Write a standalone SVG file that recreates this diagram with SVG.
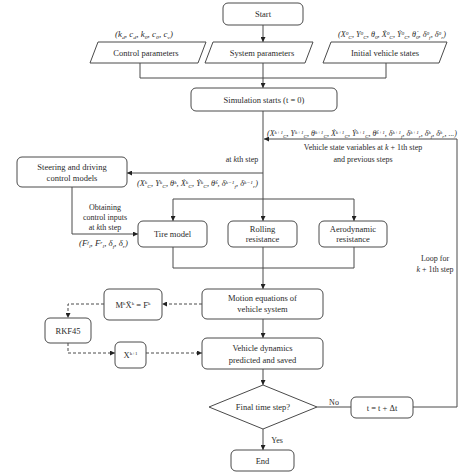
<svg xmlns="http://www.w3.org/2000/svg" width="474" height="474" viewBox="0 0 474 474">
<defs>
<marker id="ah" viewBox="0 0 8 8" refX="8" refY="4" markerWidth="5" markerHeight="5" orient="auto" markerUnits="userSpaceOnUse">
<path d="M0,0 L8,4 L0,8 z" fill="#222"/>
</marker>
</defs>
<style>
.b{fill:#fff;stroke:#4a4a4a;stroke-width:1}
.t{font-family:"Liberation Serif","DejaVu Serif",serif;font-size:8.5px;fill:#2a2a2a;text-anchor:middle}
.l{font-family:"Liberation Serif","DejaVu Serif",serif;font-size:8px;fill:#2a2a2a;text-anchor:middle}
.m{font-family:"Liberation Serif","DejaVu Serif",serif;font-size:7.5px;fill:#2a2a2a;font-style:italic}
.s{font-size:5px}
.c{fill:none;stroke:#4a4a4a;stroke-width:1}
.d{fill:none;stroke:#4a4a4a;stroke-width:1;stroke-dasharray:3,2}
.a{marker-end:url(#ah)}
</style>
<rect width="474" height="474" fill="#fff"/>

<g id="connectors">
<path class="c a" d="M263,25 V42"/>
<path class="c" d="M140,63 V78 H386 V63"/>
<path class="c a" d="M263,63 V88"/>
<path class="c a" d="M263,111 V221"/>
<path class="c a" d="M457,407 V139 H264"/>
<path class="c a" d="M263,173 H127"/>
<path class="c" d="M173,199 H354"/>
<path class="c a" d="M173,199 V221"/>
<path class="c a" d="M354,199 V221"/>
<path class="c a" d="M72,187 V234 H138"/>
<path class="c" d="M173,247 V268 H354 V247"/>
<path class="c" d="M263,247 V268"/>
<path class="c a" d="M263,268 V289"/>
<path class="d a" d="M202,304 H162"/>
<path class="d a" d="M104,304 H68 V318"/>
<path class="d a" d="M68,343 V353 H115"/>
<path class="d a" d="M146,353 H202"/>
<path class="c a" d="M263,319 V338"/>
<path class="c a" d="M263,369 V385"/>
<path class="c" d="M317,407 H351"/>
<path class="c" d="M413,407 H457"/>
<path class="c a" d="M263,429 V450"/>
</g>

<g id="start"><rect class="b" x="223" y="3" width="80" height="22" rx="5"/><text class="t" x="263" y="17">Start</text></g>

<g id="control-parameters">
<polygon class="b" points="98,42 206,42 198,63 90,63"/>
<text class="t" x="146" y="56">Control parameters</text>
<text class="m" x="115" y="37" textLength="58" lengthAdjust="spacingAndGlyphs">(k<tspan class="s" dy="1.5">d</tspan><tspan dy="-1.5">, c</tspan><tspan class="s" dy="1.5">d</tspan><tspan dy="-1.5">, k</tspan><tspan class="s" dy="1.5">θ</tspan><tspan dy="-1.5">, c</tspan><tspan class="s" dy="1.5">θ</tspan><tspan dy="-1.5">, c</tspan><tspan class="s" dy="1.5">v</tspan><tspan dy="-1.5">)</tspan></text>
</g>

<g id="system-parameters">
<polygon class="b" points="213,42 313,42 305,63 205,63"/>
<text class="t" x="262" y="56">System parameters</text>
</g>

<g id="initial-vehicle-states">
<polygon class="b" points="331,42 447,42 439,63 323,63"/>
<text class="t" x="385" y="56">Initial vehicle states</text>
<text class="m" x="338" y="37" textLength="108" lengthAdjust="spacingAndGlyphs">(X<tspan class="s" dy="-2.5">0</tspan><tspan class="s" dy="4">C</tspan><tspan dy="-1.5">, Y</tspan><tspan class="s" dy="-2.5">0</tspan><tspan class="s" dy="4">C</tspan><tspan dy="-1.5">, θ</tspan><tspan class="s" dy="1.5">0</tspan><tspan dy="-1.5">, Ẋ</tspan><tspan class="s" dy="-2.5">0</tspan><tspan class="s" dy="4">C</tspan><tspan dy="-1.5">, Ẏ</tspan><tspan class="s" dy="-2.5">0</tspan><tspan class="s" dy="4">C</tspan><tspan dy="-1.5">, θ̇</tspan><tspan class="s" dy="1.5">0</tspan><tspan dy="-1.5">, δ</tspan><tspan class="s" dy="-2.5">0</tspan><tspan class="s" dy="4">f</tspan><tspan dy="-1.5">, δ</tspan><tspan class="s" dy="-2.5">0</tspan><tspan class="s" dy="4">r</tspan><tspan dy="-1.5">)</tspan></text>
</g>

<g id="simulation-starts"><rect class="b" x="191" y="88" width="146" height="23" rx="5"/><text class="t" x="264" y="102.5">Simulation starts (t = 0)</text></g>

<g id="loop-labels">
<text class="m" x="267" y="136" textLength="190" lengthAdjust="spacingAndGlyphs">(X<tspan class="s" dy="-2.5">k+1</tspan><tspan class="s" dy="4">C</tspan><tspan dy="-1.5">, Y</tspan><tspan class="s" dy="-2.5">k+1</tspan><tspan class="s" dy="4">C</tspan><tspan dy="-1.5">, θ</tspan><tspan class="s" dy="-2.5">k+1</tspan><tspan class="s" dy="4">C</tspan><tspan dy="-1.5">, Ẋ</tspan><tspan class="s" dy="-2.5">k+1</tspan><tspan class="s" dy="4">C</tspan><tspan dy="-1.5">, Ẏ</tspan><tspan class="s" dy="-2.5">k+1</tspan><tspan class="s" dy="4">C</tspan><tspan dy="-1.5">, θ̇</tspan><tspan class="s" dy="-2.5">k+1</tspan><tspan dy="2.5">, δ</tspan><tspan class="s" dy="-2.5">k+1</tspan><tspan class="s" dy="4">f</tspan><tspan dy="-1.5">, δ</tspan><tspan class="s" dy="-2.5">k+1</tspan><tspan class="s" dy="4">r</tspan><tspan dy="-1.5">, δ</tspan><tspan class="s" dy="-2.5">k</tspan><tspan class="s" dy="4">f</tspan><tspan dy="-1.5">, δ</tspan><tspan class="s" dy="-2.5">k</tspan><tspan class="s" dy="4">r</tspan><tspan dy="-1.5">, ...)</tspan></text>
<text class="l" x="363" y="150">Vehicle state variables at <tspan font-style="italic">k</tspan> + 1th step</text>
<text class="l" x="363" y="162">and previous steps</text>
<text class="l" x="242" y="162">at <tspan font-style="italic">k</tspan>th step</text>
<text class="m" x="137" y="186" textLength="121" lengthAdjust="spacingAndGlyphs">(X<tspan class="s" dy="-2.5">k</tspan><tspan class="s" dy="4">C</tspan><tspan dy="-1.5">, Y</tspan><tspan class="s" dy="-2.5">k</tspan><tspan class="s" dy="4">C</tspan><tspan dy="-1.5">, θ</tspan><tspan class="s" dy="-2.5">k</tspan><tspan dy="2.5">, Ẋ</tspan><tspan class="s" dy="-2.5">k</tspan><tspan class="s" dy="4">C</tspan><tspan dy="-1.5">, Ẏ</tspan><tspan class="s" dy="-2.5">k</tspan><tspan class="s" dy="4">C</tspan><tspan dy="-1.5">, θ̇</tspan><tspan class="s" dy="-2.5">k</tspan><tspan dy="2.5">, δ</tspan><tspan class="s" dy="-2.5">k−1</tspan><tspan class="s" dy="4">f</tspan><tspan dy="-1.5">, δ</tspan><tspan class="s" dy="-2.5">k−1</tspan><tspan class="s" dy="4">r</tspan><tspan dy="-1.5">)</tspan></text>
<text class="l" x="105" y="210">Obtaining</text>
<text class="l" x="105" y="220">control inputs</text>
<text class="l" x="105" y="230">at <tspan font-style="italic">k</tspan>th step</text>
<text class="m" x="79" y="246" textLength="49" lengthAdjust="spacingAndGlyphs">(F<tspan class="s" dy="-2.5">f</tspan><tspan class="s" dy="4">l</tspan><tspan dy="-1.5">, F</tspan><tspan class="s" dy="-2.5">r</tspan><tspan class="s" dy="4">l</tspan><tspan dy="-1.5">, δ</tspan><tspan class="s" dy="1.5">f</tspan><tspan dy="-1.5">, δ</tspan><tspan class="s" dy="1.5">r</tspan><tspan dy="-1.5">)</tspan></text>
<text class="l" x="435" y="261">Loop for</text>
<text class="l" x="435" y="272"><tspan font-style="italic">k</tspan> + 1th step</text>
<text class="l" x="334" y="405">No</text>
<text class="l" x="277" y="443">Yes</text>
</g>

<g id="steering-control"><rect class="b" x="17" y="157" width="110" height="30" rx="5"/><text class="t" x="72" y="170">Steering and driving</text><text class="t" x="72" y="181">control models</text></g>

<g id="tire-model"><rect class="b" x="138" y="221" width="69" height="26" rx="5"/><text class="t" x="172.5" y="237">Tire model</text></g>

<g id="rolling-resistance"><rect class="b" x="228" y="221" width="69" height="26" rx="5"/><text class="t" x="262.5" y="231.5">Rolling</text><text class="t" x="262.5" y="242">resistance</text></g>

<g id="aerodynamic-resistance"><rect class="b" x="319" y="221" width="68" height="26" rx="5"/><text class="t" x="353" y="231.5">Aerodynamic</text><text class="t" x="353" y="242">resistance</text></g>

<g id="motion-equations"><rect class="b" x="202" y="289" width="121" height="30" rx="5"/><text class="t" x="262.5" y="301">Motion equations of</text><text class="t" x="262.5" y="312">vehicle system</text></g>

<g id="mxf"><rect class="b" x="104" y="289" width="58" height="31" rx="5"/><text class="t" x="133" y="307.5">M<tspan class="s" dy="-3">k</tspan><tspan dy="3">Ẍ</tspan><tspan class="s" dy="-3">k</tspan><tspan dy="3"> = F</tspan><tspan class="s" dy="-3">k</tspan></text></g>

<g id="rkf45"><rect class="b" x="45" y="318" width="46" height="25" rx="5"/><text class="t" x="68" y="333.5">RKF45</text></g>

<g id="xk1"><rect class="b" x="115" y="342" width="31" height="26" rx="5"/><text class="t" x="130.5" y="358">X<tspan class="s" dy="-3">k+1</tspan></text></g>

<g id="vehicle-dynamics"><rect class="b" x="202" y="338" width="121" height="31" rx="5"/><text class="t" x="262.5" y="351">Vehicle dynamics</text><text class="t" x="262.5" y="362.5">predicted and saved</text></g>

<g id="final-time-step"><polygon class="b" points="209,407 263,385 317,407 263,429"/><text class="t" x="263" y="410">Final time step?</text></g>

<g id="t-update"><rect class="b" x="351" y="397" width="62" height="21" rx="5"/><text class="t" x="382" y="410.5">t = t + Δt</text></g>

<g id="end"><rect class="b" x="231" y="450" width="63" height="21" rx="5"/><text class="t" x="262.5" y="463.5">End</text></g>
</svg>
